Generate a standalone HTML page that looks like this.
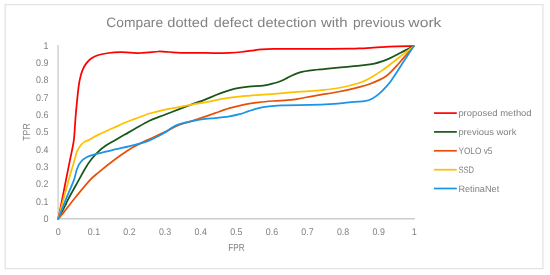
<!DOCTYPE html>
<html><head><meta charset="utf-8"><title>Compare dotted defect detection with previous work</title>
<style>
html,body{margin:0;padding:0;background:#fff;}
body{width:550px;height:275px;overflow:hidden;}
svg{display:block;font-family:"Liberation Sans",sans-serif;}
</style></head><body>
<svg width="550" height="275" viewBox="0 0 550 275" text-rendering="geometricPrecision">
<rect x="0" y="0" width="550" height="275" fill="#ffffff"/>
<rect x="5.2" y="4.6" width="537.7" height="264" fill="none" stroke="#e3e3e3" stroke-width="1.3"/>
<text y="27.4" font-size="13.5" fill="#828282"><tspan x="106.3" textLength="56.8" lengthAdjust="spacingAndGlyphs">Compare</tspan> <tspan x="167.3" textLength="40.8" lengthAdjust="spacingAndGlyphs">dotted</tspan> <tspan x="213.7" textLength="39.2" lengthAdjust="spacingAndGlyphs">defect</tspan> <tspan x="257.3" textLength="59.2" lengthAdjust="spacingAndGlyphs">detection</tspan> <tspan x="320.9" textLength="26.6" lengthAdjust="spacingAndGlyphs">with</tspan> <tspan x="352.9" textLength="52.0" lengthAdjust="spacingAndGlyphs">previous</tspan> <tspan x="408.3" textLength="33.2" lengthAdjust="spacingAndGlyphs">work</tspan></text>
<line x1="58.1" y1="45.1" x2="58.1" y2="219.4" stroke="#cbcbcb" stroke-width="1.3"/>
<line x1="57.5" y1="218.8" x2="414.9" y2="218.8" stroke="#cbcbcb" stroke-width="1.4"/>
<g font-size="9.7" fill="#818181">
<text x="58.3" y="235.1" text-anchor="middle" textLength="5.0" lengthAdjust="spacingAndGlyphs">0</text>
<text x="48.4" y="221.8" text-anchor="end" textLength="5.0" lengthAdjust="spacingAndGlyphs">0</text>
<text x="93.9" y="235.1" text-anchor="middle" textLength="12.3" lengthAdjust="spacingAndGlyphs">0.1</text>
<text x="48.4" y="204.5" text-anchor="end" textLength="12.3" lengthAdjust="spacingAndGlyphs">0.1</text>
<text x="129.5" y="235.1" text-anchor="middle" textLength="12.3" lengthAdjust="spacingAndGlyphs">0.2</text>
<text x="48.4" y="187.1" text-anchor="end" textLength="12.3" lengthAdjust="spacingAndGlyphs">0.2</text>
<text x="165.1" y="235.1" text-anchor="middle" textLength="12.3" lengthAdjust="spacingAndGlyphs">0.3</text>
<text x="48.4" y="169.8" text-anchor="end" textLength="12.3" lengthAdjust="spacingAndGlyphs">0.3</text>
<text x="200.7" y="235.1" text-anchor="middle" textLength="12.3" lengthAdjust="spacingAndGlyphs">0.4</text>
<text x="48.4" y="152.5" text-anchor="end" textLength="12.3" lengthAdjust="spacingAndGlyphs">0.4</text>
<text x="236.3" y="235.1" text-anchor="middle" textLength="12.3" lengthAdjust="spacingAndGlyphs">0.5</text>
<text x="48.4" y="135.2" text-anchor="end" textLength="12.3" lengthAdjust="spacingAndGlyphs">0.5</text>
<text x="271.9" y="235.1" text-anchor="middle" textLength="12.3" lengthAdjust="spacingAndGlyphs">0.6</text>
<text x="48.4" y="117.8" text-anchor="end" textLength="12.3" lengthAdjust="spacingAndGlyphs">0.6</text>
<text x="307.5" y="235.1" text-anchor="middle" textLength="12.3" lengthAdjust="spacingAndGlyphs">0.7</text>
<text x="48.4" y="100.5" text-anchor="end" textLength="12.3" lengthAdjust="spacingAndGlyphs">0.7</text>
<text x="343.1" y="235.1" text-anchor="middle" textLength="12.3" lengthAdjust="spacingAndGlyphs">0.8</text>
<text x="48.4" y="83.2" text-anchor="end" textLength="12.3" lengthAdjust="spacingAndGlyphs">0.8</text>
<text x="378.7" y="235.1" text-anchor="middle" textLength="12.3" lengthAdjust="spacingAndGlyphs">0.9</text>
<text x="48.4" y="65.8" text-anchor="end" textLength="12.3" lengthAdjust="spacingAndGlyphs">0.9</text>
<text x="414.3" y="235.1" text-anchor="middle" textLength="5.0" lengthAdjust="spacingAndGlyphs">1</text>
<text x="48.4" y="48.5" text-anchor="end" textLength="5.0" lengthAdjust="spacingAndGlyphs">1</text>
</g>
<text font-size="10.3" fill="#818181" text-anchor="middle" x="236.5" y="251.2" textLength="16.4" lengthAdjust="spacingAndGlyphs">FPR</text>
<text font-size="10.3" fill="#818181" text-anchor="middle" transform="translate(29.5 132) rotate(-90)" textLength="17.4" lengthAdjust="spacingAndGlyphs">TPR</text>
<g transform="translate(0 0.4)">
<path d="M58.20 218.50 C58.67 216.25 59.72 211.42 61.00 205.00 C62.28 198.58 64.42 187.50 65.90 180.00 C67.38 172.50 68.58 166.67 69.90 160.00 C71.22 153.33 72.88 146.85 73.80 140.00 C74.72 133.15 74.85 125.57 75.40 118.90 C75.95 112.23 76.53 105.65 77.10 100.00 C77.67 94.35 78.27 88.83 78.80 85.00 C79.33 81.17 79.68 79.55 80.30 77.00 C80.92 74.45 81.53 72.00 82.50 69.70 C83.47 67.40 84.65 65.13 86.10 63.20 C87.55 61.27 89.13 59.53 91.20 58.10 C93.27 56.67 95.60 55.52 98.50 54.60 C101.40 53.68 104.97 53.07 108.60 52.60 C112.23 52.13 116.65 51.85 120.30 51.80 C123.95 51.75 127.22 52.17 130.50 52.30 C133.78 52.43 136.97 52.67 140.00 52.60 C143.03 52.53 145.55 52.15 148.70 51.90 C151.85 51.65 155.50 51.15 158.90 51.10 C162.30 51.05 165.47 51.38 169.10 51.60 C172.73 51.82 175.85 52.25 180.70 52.40 C185.55 52.55 192.48 52.45 198.20 52.50 C203.92 52.55 209.78 52.72 215.00 52.70 C220.22 52.68 225.13 52.58 229.50 52.40 C233.87 52.22 237.55 51.97 241.20 51.60 C244.85 51.23 248.02 50.63 251.40 50.20 C254.78 49.77 257.87 49.30 261.50 49.00 C265.13 48.70 267.62 48.50 273.20 48.40 C278.78 48.30 286.37 48.40 295.00 48.40 C303.63 48.40 315.83 48.42 325.00 48.40 C334.17 48.38 344.17 48.37 350.00 48.30 C355.83 48.23 353.50 48.33 360.00 48.00 C366.50 47.67 380.03 46.68 389.00 46.30 C397.97 45.92 409.67 45.80 413.80 45.70" fill="none" stroke="#ff0000" stroke-width="1.75" stroke-linecap="round" stroke-linejoin="round"/>
<path d="M58.20 218.50 C59.38 216.25 63.65 208.27 65.30 205.00 C66.95 201.73 65.88 203.07 68.10 198.90 C70.32 194.73 75.70 185.22 78.60 180.00 C81.50 174.78 83.37 171.12 85.50 167.60 C87.63 164.08 89.22 161.68 91.40 158.90 C93.58 156.12 96.18 153.20 98.60 150.90 C101.02 148.60 103.23 146.92 105.90 145.10 C108.57 143.28 111.45 141.82 114.60 140.00 C117.75 138.18 121.40 136.13 124.80 134.20 C128.20 132.27 130.88 130.70 135.00 128.40 C139.12 126.10 144.65 122.70 149.50 120.40 C154.35 118.10 159.25 116.50 164.10 114.60 C168.95 112.70 173.75 110.85 178.60 109.00 C183.45 107.15 188.80 105.13 193.20 103.50 C197.60 101.87 200.62 100.92 205.00 99.20 C209.38 97.48 214.65 95.00 219.50 93.20 C224.35 91.40 229.25 89.55 234.10 88.40 C238.95 87.25 243.75 86.83 248.60 86.30 C253.45 85.77 258.83 85.82 263.20 85.20 C267.57 84.58 271.95 83.33 274.80 82.60 C277.65 81.87 278.22 81.65 280.30 80.80 C282.38 79.95 284.93 78.63 287.30 77.50 C289.67 76.37 292.08 75.00 294.50 74.00 C296.92 73.00 299.37 72.13 301.80 71.50 C304.23 70.87 305.47 70.67 309.10 70.20 C312.73 69.73 318.75 69.18 323.60 68.70 C328.45 68.22 332.13 67.88 338.20 67.30 C344.27 66.72 353.95 65.88 360.00 65.20 C366.05 64.52 369.65 64.37 374.50 63.20 C379.35 62.03 384.73 60.00 389.10 58.20 C393.47 56.40 397.55 54.00 400.70 52.40 C403.85 50.80 405.82 49.72 408.00 48.60 C410.18 47.48 412.83 46.18 413.80 45.70" fill="none" stroke="#1a5619" stroke-width="1.75" stroke-linecap="round" stroke-linejoin="round"/>
<path d="M58.20 218.50 C59.25 217.25 61.88 214.27 64.50 211.00 C67.12 207.73 69.70 204.07 73.90 198.90 C78.10 193.73 85.58 184.48 89.70 180.00 C93.82 175.52 94.68 175.27 98.60 172.00 C102.52 168.73 108.35 164.03 113.20 160.40 C118.05 156.77 124.07 152.63 127.70 150.20 C131.33 147.77 131.85 147.50 135.00 145.80 C138.15 144.10 141.75 142.30 146.60 140.00 C151.45 137.70 158.77 134.55 164.10 132.00 C169.43 129.45 173.75 126.67 178.60 124.70 C183.45 122.73 189.55 121.37 193.20 120.20 C196.85 119.03 197.57 118.68 200.50 117.70 C203.43 116.72 208.38 115.12 210.80 114.30 C213.22 113.48 211.88 113.88 215.00 112.80 C218.12 111.72 224.65 109.23 229.50 107.80 C234.35 106.37 239.25 105.17 244.10 104.20 C248.95 103.23 253.75 102.60 258.60 102.00 C263.45 101.40 268.80 100.95 273.20 100.60 C277.60 100.25 281.70 100.12 285.00 99.90 C288.30 99.68 290.50 99.60 293.00 99.30 C295.50 99.00 297.17 98.62 300.00 98.10 C302.83 97.58 306.67 96.82 310.00 96.20 C313.33 95.58 315.00 95.25 320.00 94.40 C325.00 93.55 333.33 92.42 340.00 91.10 C346.67 89.78 355.15 87.72 360.00 86.50 C364.85 85.28 365.77 85.02 369.10 83.80 C372.43 82.58 377.18 80.53 380.00 79.20 C382.82 77.87 384.17 77.08 386.00 75.80 C387.83 74.52 389.27 73.17 391.00 71.50 C392.73 69.83 394.30 68.13 396.40 65.80 C398.50 63.47 400.70 60.85 403.60 57.50 C406.50 54.15 412.10 47.67 413.80 45.70" fill="none" stroke="#e8500a" stroke-width="1.75" stroke-linecap="round" stroke-linejoin="round"/>
<path d="M58.20 218.50 C58.80 216.25 60.07 211.42 61.80 205.00 C63.53 198.58 66.58 187.20 68.60 180.00 C70.62 172.80 72.53 166.53 73.90 161.80 C75.27 157.07 75.70 154.38 76.80 151.60 C77.90 148.82 79.28 146.75 80.50 145.10 C81.72 143.45 82.85 142.55 84.10 141.70 C85.35 140.85 85.58 141.25 88.00 140.00 C90.42 138.75 94.40 136.27 98.60 134.20 C102.80 132.13 108.35 129.78 113.20 127.60 C118.05 125.42 124.07 122.62 127.70 121.10 C131.33 119.58 131.37 119.83 135.00 118.50 C138.63 117.17 144.65 114.62 149.50 113.10 C154.35 111.58 159.25 110.45 164.10 109.40 C168.95 108.35 173.75 107.70 178.60 106.80 C183.45 105.90 188.80 104.80 193.20 104.00 C197.60 103.20 200.62 102.83 205.00 102.00 C209.38 101.17 214.65 99.87 219.50 99.00 C224.35 98.13 229.25 97.40 234.10 96.80 C238.95 96.20 243.75 95.82 248.60 95.40 C253.45 94.98 257.97 94.72 263.20 94.30 C268.43 93.88 274.78 93.33 280.00 92.90 C285.22 92.47 289.65 92.05 294.50 91.70 C299.35 91.35 304.25 91.17 309.10 90.80 C313.95 90.43 318.75 90.03 323.60 89.50 C328.45 88.97 333.83 88.33 338.20 87.60 C342.57 86.87 345.87 86.10 349.80 85.10 C353.73 84.10 358.10 83.03 361.80 81.60 C365.50 80.17 368.60 78.43 372.00 76.50 C375.40 74.57 379.35 71.95 382.20 70.00 C385.05 68.05 386.02 67.17 389.10 64.80 C392.18 62.43 396.58 58.98 400.70 55.80 C404.82 52.62 411.62 47.38 413.80 45.70" fill="none" stroke="#ffc000" stroke-width="1.75" stroke-linecap="round" stroke-linejoin="round"/>
<path d="M58.20 218.50 C59.48 215.23 63.30 205.32 65.90 198.90 C68.50 192.48 71.98 184.97 73.80 180.00 C75.62 175.03 75.68 172.13 76.80 169.10 C77.92 166.07 78.80 163.87 80.50 161.80 C82.20 159.73 84.47 158.03 87.00 156.70 C89.53 155.37 91.33 155.00 95.70 153.80 C100.07 152.60 106.65 151.07 113.20 149.50 C119.75 147.93 128.95 145.98 135.00 144.40 C141.05 142.82 144.65 141.95 149.50 140.00 C154.35 138.05 160.45 134.77 164.10 132.70 C167.75 130.63 168.98 129.05 171.40 127.60 C173.82 126.15 174.97 125.20 178.60 124.00 C182.23 122.80 188.35 121.37 193.20 120.40 C198.05 119.43 204.07 118.65 207.70 118.20 C211.33 117.75 211.37 118.08 215.00 117.70 C218.63 117.32 225.38 116.55 229.50 115.90 C233.62 115.25 236.53 114.65 239.70 113.80 C242.87 112.95 245.80 111.70 248.50 110.80 C251.20 109.90 253.45 109.07 255.90 108.40 C258.35 107.73 260.05 107.30 263.20 106.80 C266.35 106.30 271.17 105.70 274.80 105.40 C278.43 105.10 279.13 105.15 285.00 105.00 C290.87 104.85 302.50 104.72 310.00 104.50 C317.50 104.28 325.00 103.97 330.00 103.70 C335.00 103.43 335.92 103.27 340.00 102.90 C344.08 102.53 350.38 101.85 354.50 101.50 C358.62 101.15 361.78 101.32 364.70 100.80 C367.62 100.28 369.57 99.65 372.00 98.40 C374.43 97.15 376.88 95.37 379.30 93.30 C381.72 91.23 384.50 88.22 386.50 86.00 C388.50 83.78 389.35 82.72 391.30 80.00 C393.25 77.28 396.38 72.47 398.20 69.70 C400.02 66.93 399.60 67.40 402.20 63.40 C404.80 59.40 411.87 48.65 413.80 45.70" fill="none" stroke="#1a94e6" stroke-width="1.75" stroke-linecap="round" stroke-linejoin="round"/>
</g>
<g font-size="9.6" fill="#818181">
<line x1="434" y1="113.1" x2="456.8" y2="113.1" stroke="#ff0000" stroke-width="1.7"/>
<text x="458.4" y="116.3" font-size="9.0" textLength="73.2" lengthAdjust="spacingAndGlyphs">proposed method</text>
<line x1="434" y1="131.9" x2="456.8" y2="131.9" stroke="#1a5619" stroke-width="1.7"/>
<text x="458.4" y="135.1" font-size="9.0" textLength="58.0" lengthAdjust="spacingAndGlyphs">previous work</text>
<line x1="434" y1="150.8" x2="456.8" y2="150.8" stroke="#e8500a" stroke-width="1.7"/>
<text x="458.4" y="154.0" font-size="9.3" textLength="34.0" lengthAdjust="spacingAndGlyphs">YOLO v5</text>
<line x1="434" y1="169.7" x2="456.8" y2="169.7" stroke="#ffc000" stroke-width="1.7"/>
<text x="458.4" y="172.8" font-size="9.3" textLength="15.6" lengthAdjust="spacingAndGlyphs">SSD</text>
<line x1="434" y1="188.5" x2="456.8" y2="188.5" stroke="#1a94e6" stroke-width="1.7"/>
<text x="458.4" y="191.7" font-size="9.2" textLength="40.8" lengthAdjust="spacingAndGlyphs">RetinaNet</text>
</g>
</svg>
</body></html>
